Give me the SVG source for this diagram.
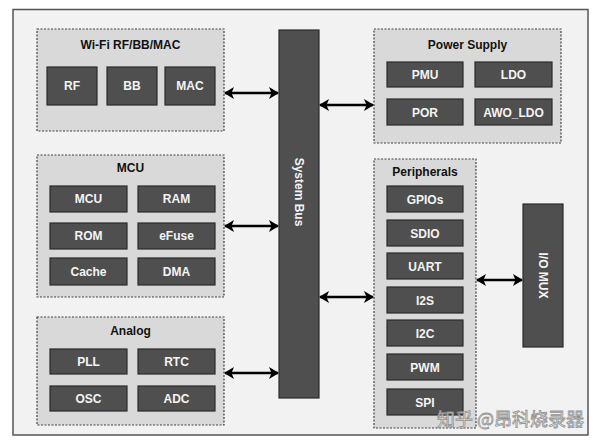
<svg xmlns="http://www.w3.org/2000/svg" width="598" height="442" viewBox="0 0 598 442">
<defs>
<style>
.outer{fill:#f2f2f2;stroke:#555;stroke-width:1.5}
.grp{fill:#d9d9d9;stroke:#444;stroke-width:1.2;stroke-dasharray:2 1.5}
.box{fill:#4f4f4f;stroke:#2b2b2b;stroke-width:1.2}
.ttl{font-family:"Liberation Sans",Arial,sans-serif;font-weight:bold;font-size:12px;fill:#111;text-anchor:middle}
.lbl{font-family:"Liberation Sans",Arial,sans-serif;font-weight:bold;font-size:12px;fill:#f4f4f4;text-anchor:middle}
.conn{stroke:#000;stroke-width:2.5;fill:none;marker-start:url(#ah);marker-end:url(#ah)}
.wm{font-family:"Noto Sans CJK SC","Liberation Sans",sans-serif;font-size:18px;fill:#fff;stroke:#888;stroke-width:0.8;opacity:0.9}
</style>
<marker id="ah" viewBox="0 0 10 12" refX="9" refY="6" markerWidth="10" markerHeight="12" markerUnits="userSpaceOnUse" orient="auto-start-reverse">
<path d="M0,0 L10,6 L0,12 L2.5,6 Z" fill="#000"/>
</marker>
</defs>
<rect class="outer" x="13" y="9.5" width="575" height="425.5"/>

<g id="wifi">
<rect class="grp" x="37" y="29" width="187" height="102"/>
<text class="ttl" x="130.5" y="49">Wi-Fi RF/BB/MAC</text>
<rect class="box" x="47" y="67" width="50" height="38"/><text class="lbl" x="72" y="90">RF</text>
<rect class="box" x="107" y="67" width="50" height="38"/><text class="lbl" x="132" y="90">BB</text>
<rect class="box" x="165" y="67" width="50" height="38"/><text class="lbl" x="190" y="90">MAC</text>
</g>

<g id="mcu">
<rect class="grp" x="37" y="155" width="187" height="142"/>
<text class="ttl" x="130.5" y="172">MCU</text>
<rect class="box" x="50" y="186" width="77" height="26"/><text class="lbl" x="88.5" y="203">MCU</text>
<rect class="box" x="138" y="186" width="77" height="26"/><text class="lbl" x="176.5" y="203">RAM</text>
<rect class="box" x="50" y="223" width="77" height="26"/><text class="lbl" x="88.5" y="240">ROM</text>
<rect class="box" x="138" y="223" width="77" height="26"/><text class="lbl" x="176.5" y="240">eFuse</text>
<rect class="box" x="50" y="258" width="77" height="27"/><text class="lbl" x="88.5" y="275.5">Cache</text>
<rect class="box" x="138" y="258" width="77" height="27"/><text class="lbl" x="176.5" y="275.5">DMA</text>
</g>

<g id="analog">
<rect class="grp" x="37" y="317" width="187" height="108"/>
<text class="ttl" x="130.5" y="335">Analog</text>
<rect class="box" x="50" y="349" width="77" height="25"/><text class="lbl" x="88.5" y="366">PLL</text>
<rect class="box" x="138" y="349" width="77" height="25"/><text class="lbl" x="176.5" y="366">RTC</text>
<rect class="box" x="50" y="386" width="77" height="25"/><text class="lbl" x="88.5" y="403">OSC</text>
<rect class="box" x="138" y="386" width="77" height="25"/><text class="lbl" x="176.5" y="403">ADC</text>
</g>

<g id="sysbus">
<rect class="box" x="279" y="30" width="40" height="368"/>
<text class="lbl" transform="translate(295,192) rotate(90)" x="0" y="0">System Bus</text>
</g>

<g id="power">
<rect class="grp" x="374" y="29" width="187" height="114"/>
<text class="ttl" x="467.5" y="49">Power Supply</text>
<rect class="box" x="387" y="62" width="76" height="25"/><text class="lbl" x="425" y="79">PMU</text>
<rect class="box" x="475" y="62" width="77" height="25"/><text class="lbl" x="513.5" y="79">LDO</text>
<rect class="box" x="387" y="99" width="76" height="26"/><text class="lbl" x="425" y="116.5">POR</text>
<rect class="box" x="475" y="99" width="77" height="26"/><text class="lbl" x="513.5" y="116.5">AWO_LDO</text>
</g>

<g id="peripherals">
<rect class="grp" x="374" y="159" width="102" height="269"/>
<text class="ttl" x="425" y="176">Peripherals</text>
<rect class="box" x="387" y="186" width="76" height="26"/><text class="lbl" x="425" y="203.5">GPIOs</text>
<rect class="box" x="387" y="220" width="76" height="26"/><text class="lbl" x="425" y="237.5">SDIO</text>
<rect class="box" x="387" y="253" width="76" height="26"/><text class="lbl" x="425" y="270.5">UART</text>
<rect class="box" x="387" y="287" width="76" height="26"/><text class="lbl" x="425" y="304.5">I2S</text>
<rect class="box" x="387" y="320" width="76" height="26"/><text class="lbl" x="425" y="337.5">I2C</text>
<rect class="box" x="387" y="354" width="76" height="26"/><text class="lbl" x="425" y="371.5">PWM</text>
<rect class="box" x="387" y="389" width="76" height="26"/><text class="lbl" x="425" y="406.5">SPI</text>
</g>

<g id="iomux">
<rect class="box" x="523" y="204" width="40" height="143"/>
<text class="lbl" transform="translate(539,275.5) rotate(90)" x="0" y="0">I/O MUX</text>
</g>

<g id="connectors">
<line class="conn" x1="225" y1="93" x2="278" y2="93"/>
<line class="conn" x1="225" y1="226" x2="278" y2="226"/>
<line class="conn" x1="225" y1="373" x2="278" y2="373"/>
<line class="conn" x1="320" y1="105" x2="373" y2="105"/>
<line class="conn" x1="320" y1="297" x2="373" y2="297"/>
<line class="conn" x1="477" y1="280" x2="522" y2="280"/>
</g>

<text class="wm" x="437" y="426">知乎 @昂科烧录器</text>
</svg>
